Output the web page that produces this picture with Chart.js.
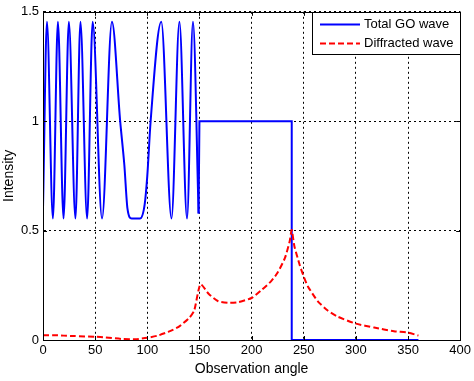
<!DOCTYPE html>
<html>
<head>
<meta charset="utf-8">
<script src="https://cdn.jsdelivr.net/npm/chart.js@4.4.1/dist/chart.umd.min.js"></script>
<style>
  html, body { margin: 0; padding: 0; background: #fff; }
  #wrap { width: 474px; height: 381px; }
</style>
</head>
<body>
<div id="wrap"><canvas id="c" width="474" height="381"></canvas></div>
<script>
// ---- data ----
const goOscAngles    = [0, 3.8, 9.5, 14.3, 19.7, 24.8, 31.1, 35.9, 42.3, 47.6, 56.6, 66.1, 74, 78, 81, 85, 93, 97.5, 100, 103.2, 113.4, 123.2, 130.8, 138.1, 143.8, 149.2];
const goOscIntensity = [0.6, 1.455, 0.555, 1.455, 0.555, 1.455, 0.555, 1.455, 0.555, 1.455, 0.555, 1.455, 1.0, 0.8, 0.6, 0.555, 0.555, 0.62, 0.75, 1.0, 1.455, 0.555, 1.455, 0.555, 1.455, 0.578];

const goStepAngles    = [149.2, 150, 238.5, 238.5, 360];
const goStepIntensity = [0.578, 1.0, 1.0, 0, 0];

const diffAngles    = [0, 10, 20, 30, 50, 60, 75, 90, 100, 110, 120, 130, 140, 145, 151, 159, 168, 178, 187, 200, 210, 219, 225, 232, 236.5, 238.5, 241, 246, 250, 254, 263.5, 273, 282.5, 300, 317.5, 336.5, 350, 360];
const diffIntensity = [0.022, 0.022, 0.02, 0.018, 0.015, 0.012, 0.005, 0.004, 0.01, 0.02, 0.037, 0.06, 0.1, 0.135, 0.255, 0.21, 0.177, 0.17, 0.173, 0.192, 0.23, 0.27, 0.308, 0.375, 0.45, 0.503, 0.43, 0.345, 0.29, 0.245, 0.177, 0.135, 0.107, 0.075, 0.057, 0.04, 0.034, 0.02];

const xTickValues = [0, 50, 100, 150, 200, 250, 300, 350, 400];
const yTickValues = [0, 0.5, 1, 1.5];

const seriesNames = ['Total GO wave', 'Diffracted wave'];
const xTitle = 'Observation angle';
const yTitle = 'Intensity';

// ---- build ----
const pts = (xs, ys) => xs.map((x, i) => ({ x: x, y: ys[i] }));
const BLUE = '#0000ff', RED = '#ff0000';

Chart.defaults.font.family = '"Liberation Sans", Arial, sans-serif';
Chart.defaults.font.size = 13;
Chart.defaults.color = '#000';

const boxPlugin = {
  id: 'matlabBox',
  afterDraw(chart) {
    const ctx = chart.ctx;
    const a = chart.chartArea;
    const xs = chart.scales.x, ys = chart.scales.y;
    ctx.save();
    ctx.strokeStyle = '#000';
    ctx.lineWidth = 1;
    ctx.setLineDash([]);
    // inner tick marks
    ctx.beginPath();
    xTickValues.forEach(v => {
      const p = Math.round(xs.getPixelForValue(v)) + 0.5;
      ctx.moveTo(p, a.bottom); ctx.lineTo(p, a.bottom - 4);
      ctx.moveTo(p, a.top); ctx.lineTo(p, a.top + 4);
    });
    yTickValues.forEach(v => {
      const p = Math.round(ys.getPixelForValue(v)) + 0.5;
      ctx.moveTo(a.left, p); ctx.lineTo(a.left + 4, p);
      ctx.moveTo(a.right, p); ctx.lineTo(a.right - 4, p);
    });
    ctx.stroke();
    // axes box
    ctx.strokeRect(Math.round(a.left) + 0.5, Math.round(a.top) + 0.5,
                   Math.round(a.right - a.left), Math.round(a.bottom - a.top));
    // legend
    const lw = 148, lh = 42;
    const lx = Math.round(a.right) - lw, ly = Math.round(a.top);
    ctx.fillStyle = '#fff';
    ctx.fillRect(lx + 0.5, ly + 0.5, lw, lh);
    ctx.strokeRect(lx + 0.5, ly + 0.5, lw, lh);
    const rows = [
      { label: seriesNames[0], color: BLUE, dash: [] , y: ly + 12.5},
      { label: seriesNames[1], color: RED, dash: [6, 3], y: ly + 31.5 }
    ];
    ctx.font = '13px "Liberation Sans", Arial, sans-serif';
    ctx.textBaseline = 'middle';
    ctx.textAlign = 'left';
    rows.forEach(r => {
      ctx.strokeStyle = r.color;
      ctx.lineWidth = 2;
      ctx.setLineDash(r.dash);
      ctx.beginPath();
      ctx.moveTo(lx + 8, r.y); ctx.lineTo(lx + 48, r.y);
      ctx.stroke();
      ctx.fillStyle = '#000';
      ctx.fillText(r.label, lx + 52, r.y);
    });
    ctx.restore();
  }
};

new Chart(document.getElementById('c'), {
  type: 'line',
  data: {
    datasets: [
      {
        label: seriesNames[1],
        data: pts(diffAngles, diffIntensity),
        borderColor: RED, backgroundColor: RED,
        borderWidth: 2, borderDash: [6, 3],
        pointRadius: 0, tension: 0.2, fill: false
      },
      {
        label: seriesNames[0],
        data: pts(goOscAngles, goOscIntensity),
        borderColor: BLUE, backgroundColor: BLUE,
        borderWidth: 2, pointRadius: 0, cubicInterpolationMode: 'monotone', fill: false
      },
      {
        label: seriesNames[0] + ' (step)',
        data: pts(goStepAngles, goStepIntensity),
        borderColor: BLUE, backgroundColor: BLUE,
        borderWidth: 2, pointRadius: 0, tension: 0, fill: false
      }
    ]
  },
  options: {
    responsive: false,
    animation: false,
    devicePixelRatio: 1,
    layout: { padding: { left: 0, top: 7, right: 11, bottom: 0 } },
    plugins: {
      legend: { display: false },
      tooltip: { enabled: false }
    },
    scales: {
      x: {
        type: 'linear',
        min: 0, max: 400,
        afterBuildTicks: s => { s.ticks = xTickValues.map(v => ({ value: v })); },
        afterFit: s => { s.height = 41; },
        ticks: { padding: 3, maxRotation: 0, autoSkip: false, font: { size: 13 }, color: '#000' },
        grid: { color: '#000', lineWidth: 1, drawTicks: false },
        border: { display: true, color: '#000', dash: [2, 3] },
        title: { display: true, text: xTitle, font: { size: 14 }, color: '#000', padding: { top: 0, bottom: 3 } }
      },
      y: {
        type: 'linear',
        min: 0, max: 1.5,
        afterBuildTicks: s => { s.ticks = yTickValues.map(v => ({ value: v })); },
        afterFit: s => { s.width = 43; },
        ticks: { padding: 4, autoSkip: false, font: { size: 13 }, color: '#000',
                 callback: v => String(v) },
        grid: { color: '#000', lineWidth: 1, drawTicks: false },
        border: { display: true, color: '#000', dash: [2, 3] },
        title: { display: true, text: yTitle, font: { size: 14 }, color: '#000', padding: { top: 1, bottom: 0 } }
      }
    }
  },
  plugins: [boxPlugin]
});
</script>
</body>
</html>
